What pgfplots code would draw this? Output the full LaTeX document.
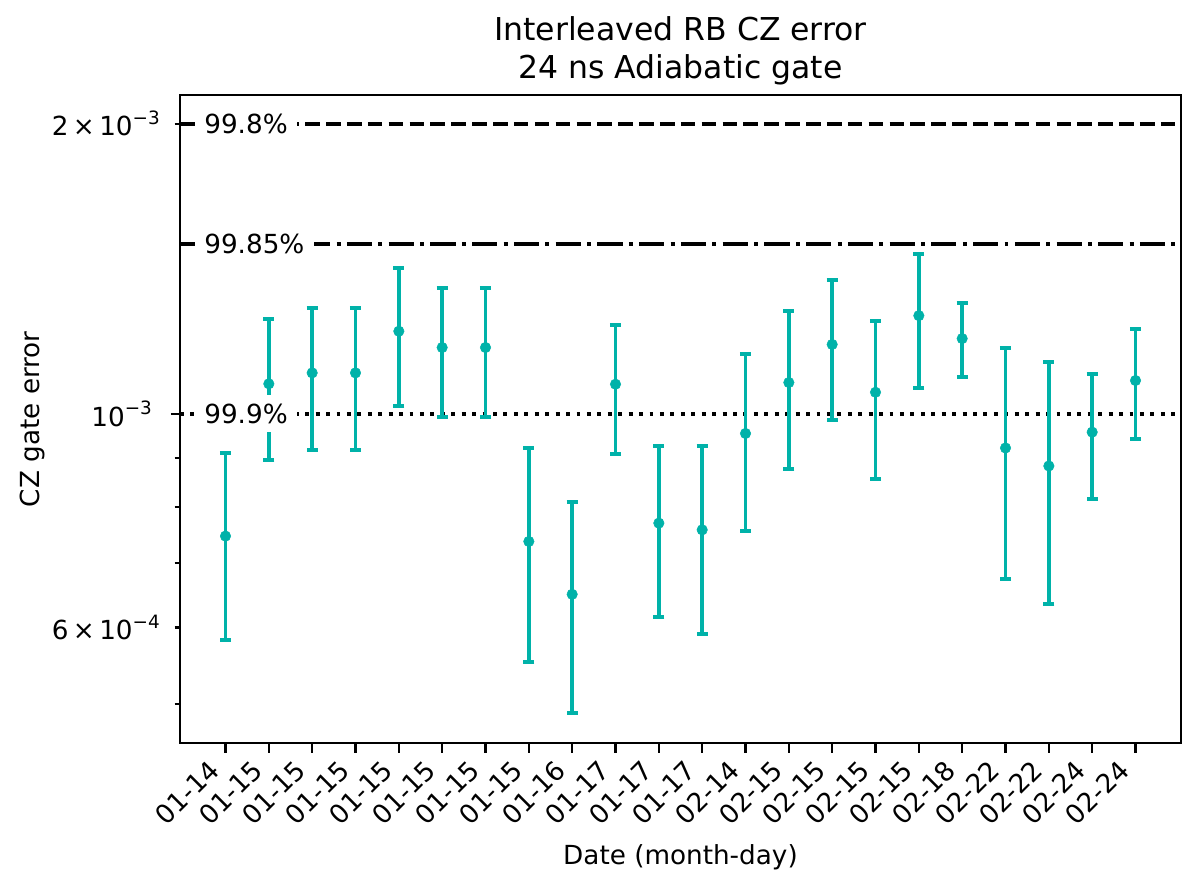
\documentclass[border=0pt]{standalone}
\usepackage{fontspec}
\setmainfont{DejaVu Sans}
\usepackage{pgfplots}
\pgfplotsset{compat=1.18}
\definecolor{teal1}{RGB}{0,178,169}
\newcommand{\sexp}[1]{\raisebox{0.8ex}{\fontsize{7}{7}\selectfont #1}}

\pgfplotstableread{
x y e
0 7.464e-4 1.646e-4
1 1.0739e-3 1.792e-4
2 1.1023e-3 1.860e-4
3 1.1023e-3 1.860e-4
4 1.2177e-3 1.984e-4
5 1.1712e-3 1.798e-4
6 1.1712e-3 1.798e-4
7 7.369e-4 1.844e-4
8 6.495e-4 1.607e-4
9 1.0729e-3 1.639e-4
10 7.700e-4 1.552e-4
11 7.577e-4 1.674e-4
12 9.538e-4 1.987e-4
13 1.0772e-3 2.003e-4
14 1.1798e-3 1.954e-4
15 1.0524e-3 1.963e-4
16 1.2639e-3 2.014e-4
17 1.1965e-3 1.049e-4
18 9.213e-4 2.479e-4
19 8.825e-4 2.482e-4
20 9.568e-4 1.418e-4
21 1.0824e-3 1.410e-4
}\errdata

\begin{document}
\begin{tikzpicture}
\begin{axis}[
  scale only axis,
  width=381.33pt, height=246.97pt,
  ymode=log,
  ymin=4.549e-4, ymax=2.141e-3,
  xmin=-1.05, xmax=22.05,
  axis line style={line width=0.8pt},
  tick style={line width=0.8pt, black},
  tick align=outside,
  major tick length=3.5pt,
  minor tick length=2pt,
  xtick pos=bottom, ytick pos=left,
  xtick={0,...,21},
  xticklabels={01-14,01-15,01-15,01-15,01-15,01-15,01-15,01-15,01-16,01-17,01-17,01-17,02-14,02-15,02-15,02-15,02-15,02-18,02-22,02-22,02-24,02-24},
  xticklabel style={xshift=-7pt, yshift=-2pt, rotate=45, anchor=north east, inner sep=0pt, font=\normalsize},
  ytick={1e-3},
  yticklabels={10\sexp{−3}},
  yticklabel style={anchor=east, inner sep=0pt, xshift=-7pt, font=\normalsize},
  extra y ticks={6e-4,2e-3},
  extra y tick labels={6\,×\,10\sexp{−4},2\,×\,10\sexp{−3}},
  extra y tick style={major tick length=2pt, yticklabel style={xshift=1.5pt}},
  minor ytick={5e-4,7e-4,8e-4,9e-4},
  title={Interleaved RB CZ error\\[1.1pt]24 ns Adiabatic gate},
  title style={font=\fontsize{12}{13.4}\selectfont, align=center, anchor=south, inner sep=0pt, yshift=-2.5pt},
  xlabel={Date (month-day)},
  xlabel style={at={(rel axis cs:0.5,-0.1754)}, anchor=center, font=\normalsize},
  ylabel={CZ gate error},
  ylabel style={at={(rel axis cs:-0.1469,0.5)}, anchor=center, rotate=0, font=\normalsize},
]
\addplot[black, line width=1.5pt, dash pattern=on 5.55pt off 2.4pt, forget plot] coordinates {(-1.05,2e-3) (22.05,2e-3)};
\addplot[black, line width=1.5pt, dash pattern=on 9.6pt off 2.4pt on 1.5pt off 2.4pt, forget plot] coordinates {(-1.05,1.5e-3) (22.05,1.5e-3)};
\addplot[black, line width=1.5pt, dash pattern=on 1.5pt off 2.475pt, forget plot] coordinates {(-1.05,1e-3) (22.05,1e-3)};
\addplot[teal1, only marks, mark=*, mark size=2pt, mark options={line width=0.2pt, fill=teal1, draw=teal1},
  error bars/.cd, y dir=both, y explicit,
  error bar style={line width=1.5pt, teal1},
  error mark options={rotate=90, mark size=2.1pt, line width=1.5pt, teal1}]
  table[x=x, y=y, y error=e] {\errdata};
\node[fill=white, anchor=west, inner xsep=3.6pt, inner ysep=3.3pt, xshift=-3.6pt, font=\normalsize] at (axis cs:-0.5,2e-3) {99.8\%};
\node[fill=white, anchor=west, inner xsep=3.6pt, inner ysep=3.3pt, xshift=-3.6pt, font=\normalsize] at (axis cs:-0.5,1.5e-3) {99.85\%};
\node[fill=white, anchor=west, inner xsep=3.6pt, inner ysep=3.3pt, xshift=-3.6pt, font=\normalsize] at (axis cs:-0.5,1e-3) {99.9\%};
\coordinate (bl) at (rel axis cs:0,0);
\end{axis}
\pgfresetboundingbox
\path[use as bounding box] (bl) ++(-68.57pt,-55.89pt) rectangle ++(457.14pt,339.05pt);
\end{tikzpicture}
\end{document}
